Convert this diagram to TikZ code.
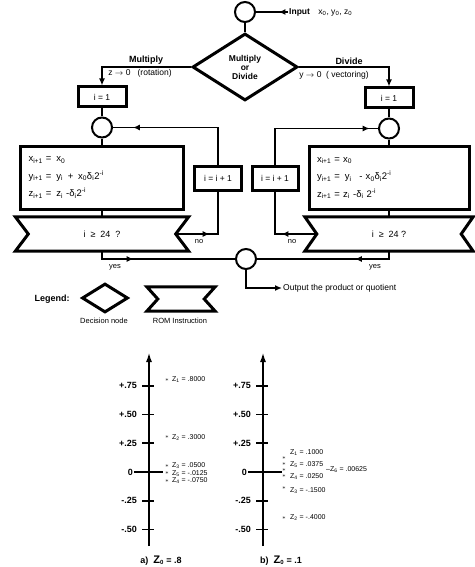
\documentclass[tikz,border=0pt]{standalone}
\usepackage{fontspec}
\setmainfont{Liberation Sans}
\usepackage{tikz}
\usetikzlibrary{calc}
\usetikzlibrary{arrows.meta}
\usetikzlibrary{shapes.geometric}
\usetikzlibrary{decorations.markings}
\usetikzlibrary{positioning}

\newcommand{\ix}[1]{\textsubscript{#1}}
\newcommand{\px}[1]{\textsuperscript{#1}}

\begin{document}
\begin{tikzpicture}[x=1pt,y=-1pt]
    \tikzstyle{every node}=[font=\fontsize{8.5}{10}\selectfont,inner sep=1pt]
    \tikzstyle{wire}=[line width=1.8pt]
    \tikzstyle{box}=[draw,line width=3pt,minimum width=48pt,minimum height=20pt,inner sep=0pt]
    \tikzstyle{junction}=[draw,circle,line width=2pt,minimum size=20pt,inner sep=0pt]
    \tikzstyle{decision}=[draw,diamond,line width=3pt,inner sep=0pt,align=center,font=\fontsize{8.5}{9}\selectfont\bfseries]
    \tikzstyle{body}=[box,align=left,text width=147pt,inner xsep=8pt,minimum height=63pt,font=\fontsize{9.5}{10}\selectfont]
    \tikzstyle{rom}=[minimum height=34pt,inner sep=0pt,font=\fontsize{9}{10}\selectfont]
    \tikzstyle{tag}=[font=\fontsize{9}{10}\selectfont\bfseries]
    \tikzstyle{small}=[font=\fontsize{7.5}{9}\selectfont]
    \tikzstyle{value}=[font=\fontsize{7}{8}\selectfont]
    \tikzstyle{star}=[font=\fontsize{6.5}{6.5}\selectfont,inner sep=0pt]
    \tikzstyle{endarrow}=[wire,-{Latex[length=7pt,width=6pt]}]
    \tikzset{arrowat/.style={wire,postaction={decorate},decoration={markings,mark=at position #1 with {\arrow{Latex[length=7pt,width=6pt]}}}}}

    \useasboundingbox (0,0) rectangle (474,567);

    \newcommand{\romoutline}[2]{%
    \draw[line width=3pt,line join=miter] (#1.north west) -- (#1.north east) -- ([xshift=-#2]#1.east)
        -- (#1.south east) -- (#1.south west) -- ([xshift=#2]#1.west) -- cycle ;}

    % entry and choice
    \node[junction] (start) at (245,12) {} ;
    \node[anchor=west] (input) at (288,12) {\textbf{Input}\quad x\ix{0}, y\ix{0}, z\ix{0}} ;
    \node[decision,minimum width=105pt,minimum height=67pt] (choose) at (245,67) {Multiply\\or\\Divide} ;

    \node[tag] (multag) at (146,60) {Multiply} ;
    \node (mulmode) at (140,73) {z $\rightarrow$ 0 \ \ (rotation)} ;
    \node[tag] (divtag) at (349,61) {Divide} ;
    \node (divmode) at (334,75) {y $\rightarrow$ 0 \ ( vectoring)} ;

    % multiply side
    \node[box] (mulinit) at (102,97) {i = 1} ;
    \node[junction,below=8pt of mulinit] (mulloop) {} ;
    \node[body] (mulbody) at (102,177.5) {x\ix{i+1} = \,x\ix{0}\\[6pt]
        y\ix{i+1} = \,y\ix{i} \,+\, x\ix{0}δ\ix{i}2\px{-i}\\[6pt]
        z\ix{i+1} = \,z\ix{i} -δ\ix{i}2\px{-i}} ;
    \node[rom,minimum width=173pt] (multest) at (102,234) {i \ ≥ \ 24 \ ?} ;
    \romoutline{multest}{13pt}
    \node[box,minimum width=47pt,minimum height=24pt] (mulstep) at (218,178) {i = i + 1} ;

    % divide side
    \node[box] (divinit) at (389,98) {i = 1} ;
    \node[junction,below=8pt of divinit] (divloop) {} ;
    \node[body,text width=144pt] (divbody) at (389,178) {x\ix{i+1} = x\ix{0}\\[6pt]
        y\ix{i+1} = \,y\ix{i} \ \,- x\ix{0}δ\ix{i}2\px{-i}\\[6pt]
        z\ix{i+1} = z\ix{i} -δ\ix{i} 2\px{-i}} ;
    \node[rom,minimum width=168pt] (divtest) at (389,234) {i \ ≥ \ 24 ?} ;
    \romoutline{divtest}{12pt}
    \node[box,minimum width=46pt,minimum height=24pt] (divstep) at (275,178) {i = i + 1} ;

    % exit
    \node[junction] (finish) at (246,259) {} ;
    \node[anchor=west] (output) at (282,288) {Output the product or quotient} ;

    \coordinate (mulnotch) at ([xshift=-13pt]multest.east) ;
    \coordinate (divnotch) at ([xshift=12pt]divtest.west) ;

    \draw[arrowat=0.3] (input.west) -- (start.east) ;
    \draw[wire] (start.south) -- (choose.north) ;
    \draw[endarrow] (choose.west) -| (mulinit.north) ;
    \draw[endarrow] (choose.east) -| (divinit.north) ;
    \draw[wire] (mulinit.south) -- (mulloop.north) ;
    \draw[wire] (divinit.south) -- (divloop.north) ;
    \draw[wire] (mulloop.south) -- (mulbody.north) ;
    \draw[wire] (divloop.south) -- (divbody.north) ;
    \draw[wire] (mulbody.south) -- (multest.north) ;
    \draw[wire] (divbody.south) -- (divtest.north) ;

    \draw[arrowat=0.4] (mulnotch) -| (mulstep.south) ;
    \draw[arrowat=0.86] (mulstep.north) |- (mulloop.east) ;
    \draw[arrowat=0.42] (divnotch) -| (divstep.south) ;
    \draw[arrowat=0.94] (divstep.north) |- (divloop.west) ;
    \draw[arrowat=0.28] (multest.south) |- (finish.west) ;
    \draw[arrowat=0.3] (divtest.south) |- (finish.east) ;
    \draw[endarrow] (finish.south) |- (output.west) ;

    \node[small] (mulno) at (199,242) {no} ;
    \node[small] (divno) at (292,242) {no} ;
    \node[small] (mulyes) at (115,267) {yes} ;
    \node[small] (divyes) at (375,267) {yes} ;

    % legend
    \node[tag] (legend) at (52,299) {Legend:} ;
    \node[draw,diamond,line width=3pt,minimum width=46pt,minimum height=29pt,inner sep=0pt] (legdecision) at (105,298) {} ;
    \node[rom,minimum width=68pt,minimum height=24pt] (legrom) at (181,299) {} ;
    \romoutline{legrom}{11pt}
    \node[small] (legdecisiontext) at (104,321) {Decision node} ;
    \node[small] (legromtext) at (180,321) {ROM Instruction} ;

    % z axes
    \newcommand{\zaxis}[3]{%
    \draw[line width=2pt,-{Latex[length=10pt,width=6pt]}] (#2,546) -- (#2,352) ;
    \foreach \v/\t/\n in {0.75/+.75/1,0.5/+.50/2,0.25/+.25/3,-0.25/-.25/4,-0.5/-.50/5}{%
      \draw[line width=1.6pt] ({#2-7},{472-(\v)*115}) -- ({#2+5},{472-(\v)*115}) ;
      \node[tag,anchor=east] (#1tick\n) at ({#2-11},{472-(\v)*115}) {\t} ;}
    \node[tag,anchor=east] (#1zero) at ({#2-15},472) {0} ;
    \draw[line width=1.6pt] (#1zero.east) -- ({#2+#3},472) ;}

    \zaxis{za}{149}{14}
    \zaxis{zb}{263}{19}

    \foreach \n/\y/\t in {1/380/.8000,2/437.5/.3000,3/466/.0500,5/473.4/-.0125,4/480.6/-.0750}{%
      \node[star] (za\n) at (167,\y) {$\ast$} ;
      \node[value,anchor=west] (za\n text) at (171,\y) {Z\ix{\n} = \t} ;}

    \node[star] (zb1) at (284,458) {$\ast$} ;
    \node[star] (zb5) at (284,464) {$\ast$} ;
    \node[star] (zb6) at (284,470) {$\ast$} ;
    \node[star] (zb4) at (284,476) {$\ast$} ;
    \node[star] (zb3) at (284,488) {$\ast$} ;
    \node[star] (zb2) at (284,518) {$\ast$} ;
    \node[value,anchor=west] (zb1text) at (289,453) {Z\ix{1} = .1000} ;
    \node[value,anchor=west] (zb5text) at (289,465) {Z\ix{5} = .0375} ;
    \node[value,anchor=west] (zb6text) at (325,470) {–Z\ix{6} = .00625} ;
    \node[value,anchor=west] (zb4text) at (289,477) {Z\ix{4} = .0250} ;
    \node[value,anchor=west] (zb3text) at (289,491) {Z\ix{3} = -.1500} ;
    \node[value,anchor=west] (zb2text) at (289,518) {Z\ix{2} = -.4000} ;

    \node[tag] (capa) at (161,561) {a) \ {\fontsize{11}{11}\selectfont Z}\ix{0} = .8} ;
    \node[tag] (capb) at (281,561) {b) \ {\fontsize{11}{11}\selectfont Z}\ix{0} = .1} ;

\end{tikzpicture}
\end{document}
